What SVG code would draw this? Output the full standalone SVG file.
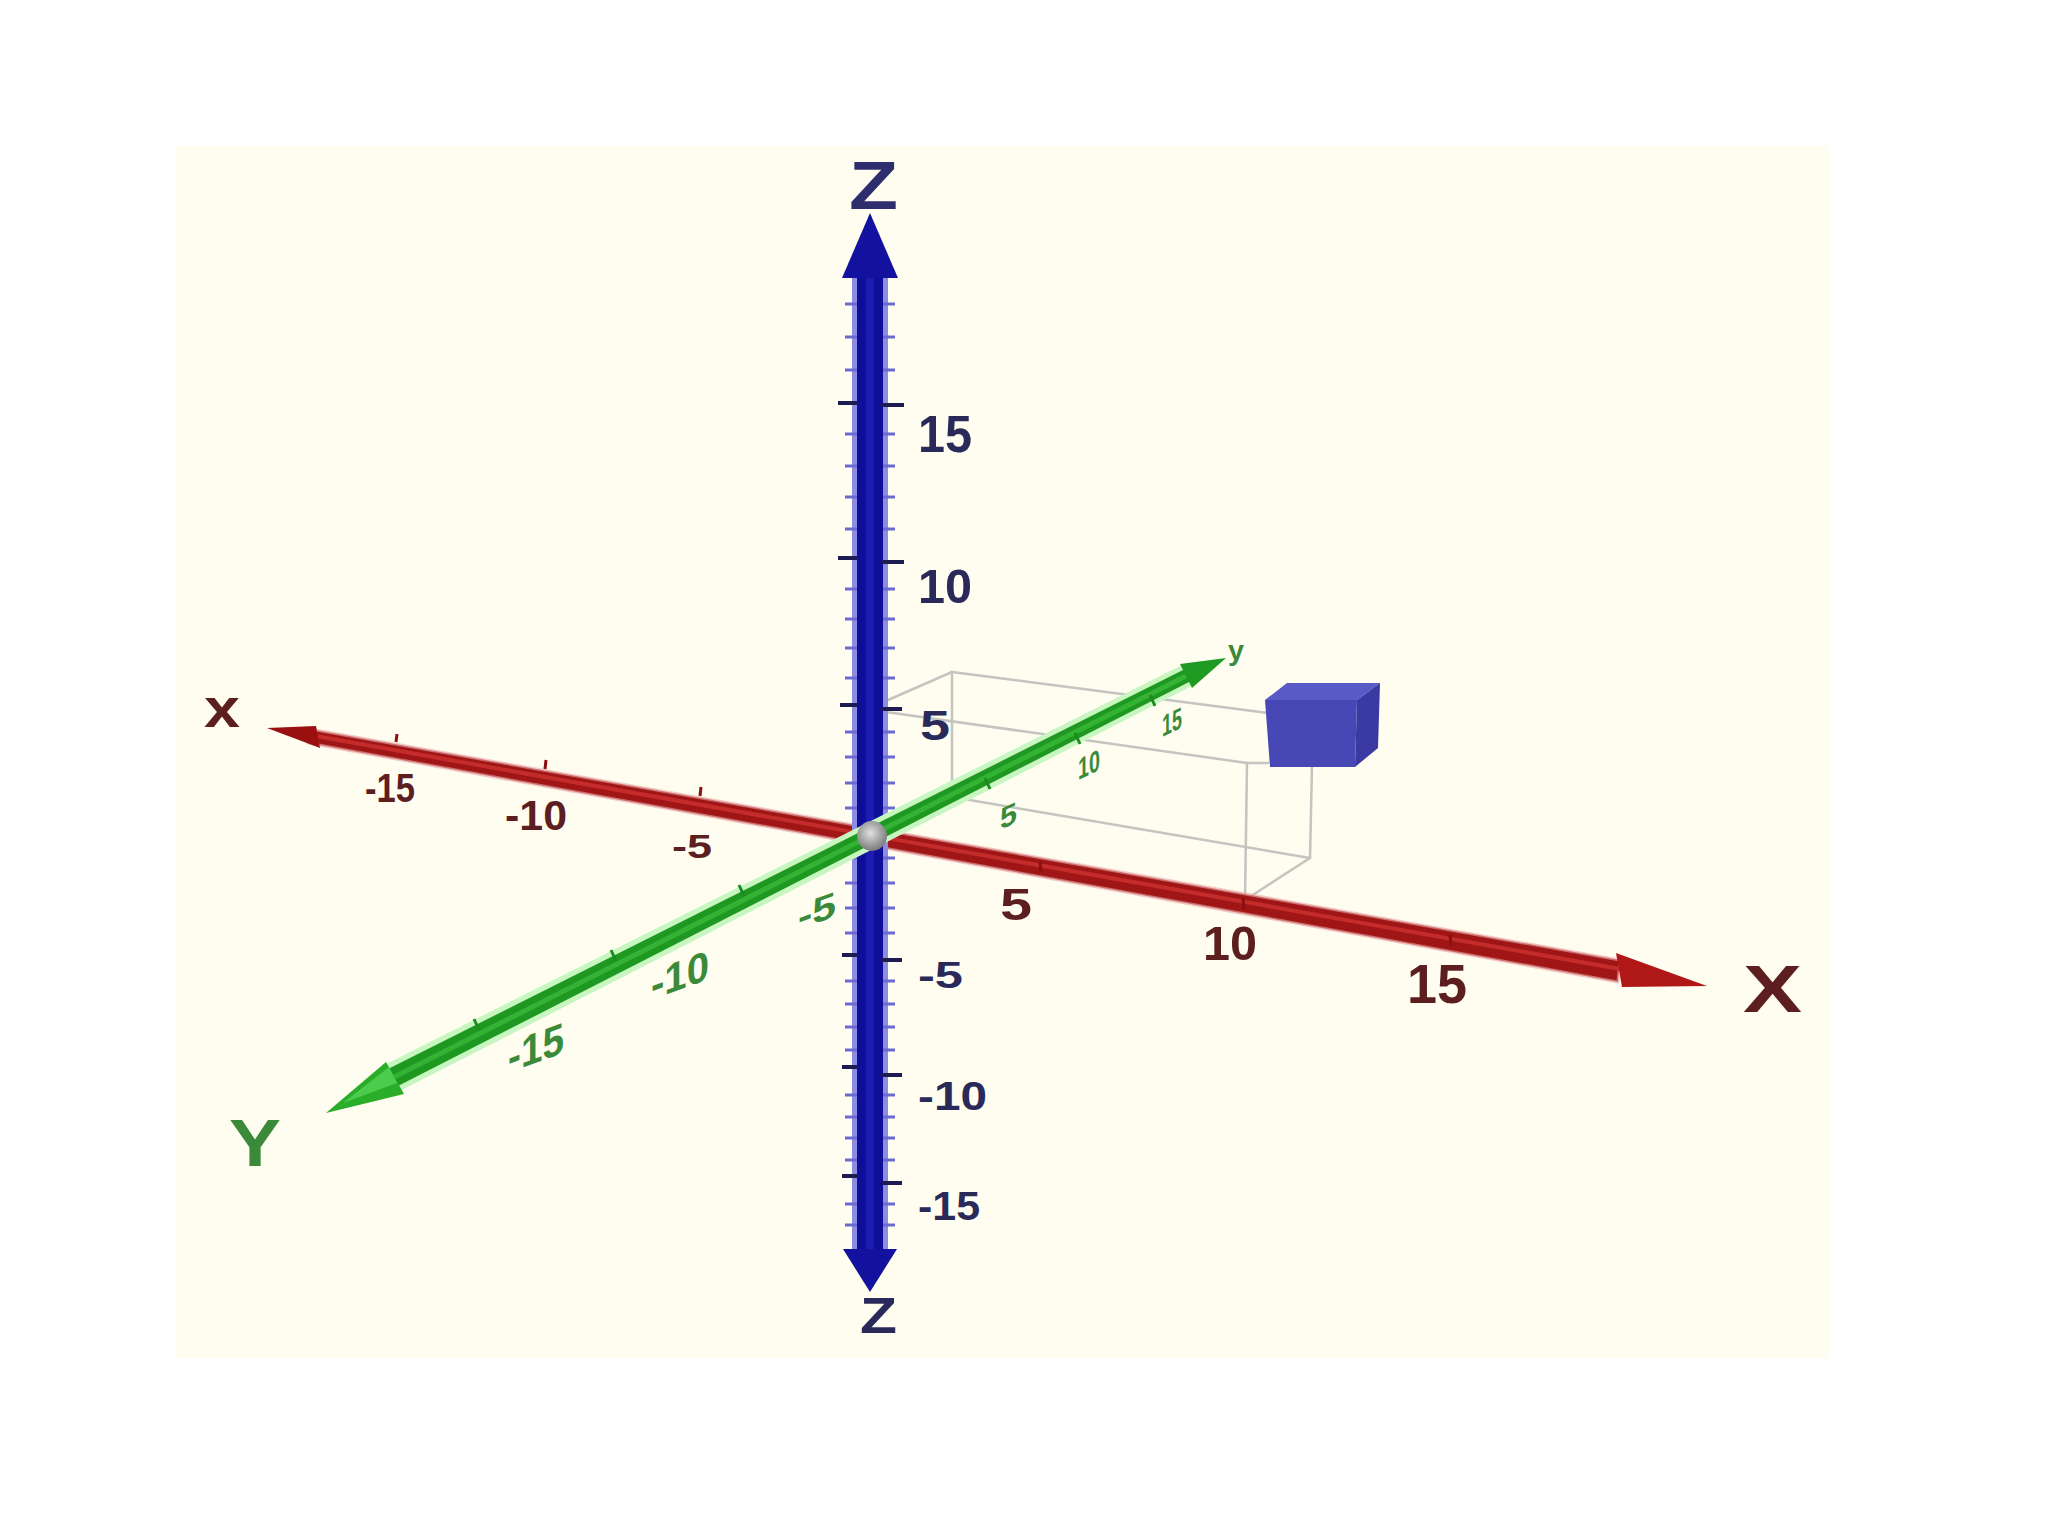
<svg xmlns="http://www.w3.org/2000/svg" width="2048" height="1535" viewBox="0 0 2048 1535">
<style>
text{font-family:"Liberation Sans","DejaVu Sans",Arial,sans-serif;}
.zl{fill:#2a2a5a;font-weight:bold;}
.xl{fill:#5c1e1e;font-weight:bold;}
.yl{fill:#3a8a3a;font-weight:bold;}
.box{stroke:#c4c4c0;stroke-width:2.5;fill:none;stroke-linecap:round;}
.zmin{stroke:#6a6ad0;stroke-width:3;}
.zmaj{stroke:#1c1c52;stroke-width:4;}
.xt{stroke:#8a1010;stroke-width:3;}
.yt{stroke:#1f8a1f;stroke-width:3;}
</style>
<defs>
<radialGradient id="ball" cx="0.45" cy="0.4" r="0.6">
<stop offset="0" stop-color="#e0e0e0"/>
<stop offset="1" stop-color="#7a7a7a"/>
</radialGradient>
</defs>
<rect x="0" y="0" width="2048" height="1535" fill="#ffffff"/>
<rect id="panel" x="176" y="146" width="1653" height="1212" fill="#fffdf0"/>

<g id="box">
<line class="box" x1="872" y1="707" x2="952" y2="672"/>
<line class="box" x1="952" y1="672" x2="952" y2="797"/>
<line class="box" x1="952" y1="672" x2="1268" y2="713"/>
<line class="box" x1="872" y1="710" x2="1247" y2="763"/>
<line class="box" x1="1247" y1="763" x2="1245" y2="900"/>
<line class="box" x1="952" y1="797" x2="1310" y2="858"/>
<line class="box" x1="1312" y1="765" x2="1310" y2="858"/>
<line class="box" x1="1310" y1="858" x2="1245" y2="900"/>
<line class="box" x1="1247" y1="763" x2="1268" y2="763"/>
</g>

<g id="cube">
<polygon points="1265,700 1287,683 1380,683 1357,700" fill="#5a5ac6"/>
<polygon points="1357,700 1380,683 1378,748 1355,767" fill="#3a3aa2"/>
<polygon points="1265,700 1357,700 1355,767 1270,767" fill="#4747b6"/>
</g>

<g id="connectors">
<g id="x-axis">
<polygon points="310,729 1620,960 1618,982 308,743" fill="#a01616" stroke="#eaa8a8" stroke-width="3" stroke-opacity="0.6" stroke-linejoin="round"/>
<line x1="310" y1="735" x2="1620" y2="969" stroke="#c42c2c" stroke-width="4"/>
<polygon points="267,728 316,726 320,748" fill="#9a1010"/>
<polygon points="1707,986 1616,953 1622,987" fill="#b01818"/>
<line class="xt" x1="396" y1="742" x2="397" y2="734"/>
<line class="xt" x1="545" y1="769" x2="546" y2="760"/>
<line class="xt" x1="700" y1="796" x2="701" y2="787"/>
<line class="xt" x1="1040" y1="862" x2="1041" y2="872"/>
<line class="xt" x1="1243" y1="898" x2="1244" y2="909"/>
<line class="xt" x1="1450" y1="935" x2="1451" y2="946"/>
</g>

<g id="z-axis">
<rect x="852" y="277" width="36" height="973" fill="#8c8ce0"/>
<g id="z-minor">
<line class="zmin" x1="845" y1="304" x2="895" y2="304"/>
<line class="zmin" x1="845" y1="337" x2="895" y2="337"/>
<line class="zmin" x1="845" y1="370" x2="895" y2="370"/>
<line class="zmin" x1="845" y1="434" x2="895" y2="434"/>
<line class="zmin" x1="845" y1="466" x2="895" y2="466"/>
<line class="zmin" x1="845" y1="497" x2="895" y2="497"/>
<line class="zmin" x1="845" y1="529" x2="895" y2="529"/>
<line class="zmin" x1="845" y1="589" x2="895" y2="589"/>
<line class="zmin" x1="845" y1="619" x2="895" y2="619"/>
<line class="zmin" x1="845" y1="648" x2="895" y2="648"/>
<line class="zmin" x1="845" y1="678" x2="895" y2="678"/>
<line class="zmin" x1="845" y1="732" x2="895" y2="732"/>
<line class="zmin" x1="845" y1="757" x2="895" y2="757"/>
<line class="zmin" x1="845" y1="783" x2="895" y2="783"/>
<line class="zmin" x1="845" y1="808" x2="895" y2="808"/>
<line class="zmin" x1="845" y1="858" x2="895" y2="858"/>
<line class="zmin" x1="845" y1="883" x2="895" y2="883"/>
<line class="zmin" x1="845" y1="908" x2="895" y2="908"/>
<line class="zmin" x1="845" y1="933" x2="895" y2="933"/>
<line class="zmin" x1="845" y1="981" x2="895" y2="981"/>
<line class="zmin" x1="845" y1="1004" x2="895" y2="1004"/>
<line class="zmin" x1="845" y1="1027" x2="895" y2="1027"/>
<line class="zmin" x1="845" y1="1050" x2="895" y2="1050"/>
<line class="zmin" x1="845" y1="1095" x2="895" y2="1095"/>
<line class="zmin" x1="845" y1="1117" x2="895" y2="1117"/>
<line class="zmin" x1="845" y1="1138" x2="895" y2="1138"/>
<line class="zmin" x1="845" y1="1160" x2="895" y2="1160"/>
<line class="zmin" x1="845" y1="1204" x2="895" y2="1204"/>
<line class="zmin" x1="845" y1="1225" x2="895" y2="1225"/>
</g>
<rect x="857" y="277" width="26" height="973" fill="#0e0e98"/>
<rect x="866" y="277" width="8" height="973" fill="#1c1cb4"/>
<polygon points="870,213 898,278 842,278" fill="#12129e"/>
<polygon points="843,1249 897,1249 870,1292" fill="#12129e"/>
<g id="z-major">
<line class="zmaj" x1="838" y1="403" x2="858" y2="403"/><line class="zmaj" x1="882" y1="405" x2="904" y2="405"/>
<line class="zmaj" x1="838" y1="558" x2="858" y2="558"/><line class="zmaj" x1="882" y1="562" x2="904" y2="562"/>
<line class="zmaj" x1="840" y1="705" x2="858" y2="705"/><line class="zmaj" x1="882" y1="709" x2="902" y2="709"/>
<line class="zmaj" x1="842" y1="955" x2="858" y2="955"/><line class="zmaj" x1="882" y1="960" x2="902" y2="960"/>
<line class="zmaj" x1="842" y1="1067" x2="858" y2="1067"/><line class="zmaj" x1="882" y1="1075" x2="902" y2="1075"/>
<line class="zmaj" x1="842" y1="1176" x2="858" y2="1176"/><line class="zmaj" x1="882" y1="1183" x2="902" y2="1183"/>
</g>
</g>

<g id="y-axis">
<polygon points="387,1068 1185,668 1191,682 397,1088" fill="#b6f0b0" stroke="#c8f6c0" stroke-width="8" stroke-linejoin="round"/>
<polygon points="388,1069 1185,669 1191,681 396,1087" fill="#1e9820"/>
<line x1="392" y1="1078" x2="1188" y2="675" stroke="#34b234" stroke-width="5"/>
<polygon points="326,1113 386,1062 404,1094" fill="#2aae2a"/>
<polygon points="343,1103 389,1067 397,1083" fill="#4ccc4c"/>
<polygon points="1226,658 1180,664 1192,688" fill="#1f9a22"/>
<line class="yt" x1="479" y1="1030" x2="474" y2="1019"/>
<line class="yt" x1="616" y1="961" x2="611" y2="950"/>
<line class="yt" x1="744" y1="896" x2="739" y2="885"/>
<line class="yt" x1="985" y1="778" x2="990" y2="789"/>
<line class="yt" x1="1075" y1="733" x2="1080" y2="744"/>
<line class="yt" x1="1150" y1="695" x2="1155" y2="706"/>
</g>
</g>

<circle id="origin" cx="872" cy="836" r="15" fill="url(#ball)"/>

<g id="z-labels">
<text class="zl" x="849" y="209" font-size="68" font-weight="normal" textLength="49" lengthAdjust="spacingAndGlyphs" style="fill:#2e2e6e">Z</text>
<text class="zl" x="918" y="452" font-size="52" textLength="54" lengthAdjust="spacingAndGlyphs">15</text>
<text class="zl" x="918" y="603" font-size="48" textLength="54" lengthAdjust="spacingAndGlyphs">10</text>
<text class="zl" x="920" y="740" font-size="42" textLength="30" lengthAdjust="spacingAndGlyphs">5</text>
<text class="zl" x="918" y="988" font-size="36" textLength="45" lengthAdjust="spacingAndGlyphs">-5</text>
<text class="zl" x="918" y="1110" font-size="40" textLength="69" lengthAdjust="spacingAndGlyphs">-10</text>
<text class="zl" x="918" y="1220" font-size="40" textLength="62" lengthAdjust="spacingAndGlyphs">-15</text>
<text class="zl" x="860" y="1333" font-size="50" font-weight="normal" textLength="37" lengthAdjust="spacingAndGlyphs">Z</text>
</g>

<g id="x-labels">
<text class="xl" x="204" y="727" font-size="56" textLength="36" lengthAdjust="spacingAndGlyphs">x</text>
<text class="xl" x="365" y="802" font-size="40" textLength="50" lengthAdjust="spacingAndGlyphs">-15</text>
<text class="xl" x="505" y="830" font-size="42" textLength="62" lengthAdjust="spacingAndGlyphs">-10</text>
<text class="xl" x="672" y="858" font-size="34" textLength="40" lengthAdjust="spacingAndGlyphs">-5</text>
<text class="xl" x="1000" y="920" font-size="44" textLength="32" lengthAdjust="spacingAndGlyphs">5</text>
<text class="xl" x="1203" y="960" font-size="48" textLength="54" lengthAdjust="spacingAndGlyphs">10</text>
<text class="xl" x="1407" y="1003" font-size="56" textLength="60" lengthAdjust="spacingAndGlyphs">15</text>
<text class="xl" x="1743" y="1012" font-size="66" font-weight="normal" textLength="59" lengthAdjust="spacingAndGlyphs">X</text>
</g>

<g id="y-labels">
<text class="yl" x="229" y="1166" font-size="66" font-weight="normal" textLength="52" lengthAdjust="spacingAndGlyphs">Y</text>
<text class="yl" transform="translate(508,1073) skewY(-20)" font-size="44" textLength="56" lengthAdjust="spacingAndGlyphs">-15</text>
<text class="yl" transform="translate(651,1000) skewY(-20)" font-size="42" textLength="58" lengthAdjust="spacingAndGlyphs">-10</text>
<text class="yl" transform="translate(798,930) skewY(-20)" font-size="36" textLength="38" lengthAdjust="spacingAndGlyphs">-5</text>
<text class="yl" transform="translate(1000,830) skewY(-25)" font-size="30" textLength="17" lengthAdjust="spacingAndGlyphs">5</text>
<text class="yl" transform="translate(1078,780) skewY(-25)" font-size="30" textLength="22" lengthAdjust="spacingAndGlyphs">10</text>
<text class="yl" transform="translate(1162,737) skewY(-25)" font-size="30" textLength="20" lengthAdjust="spacingAndGlyphs">15</text>
<text class="yl" x="1228" y="660" font-size="28" textLength="16" lengthAdjust="spacingAndGlyphs">y</text>
</g>
</svg>
